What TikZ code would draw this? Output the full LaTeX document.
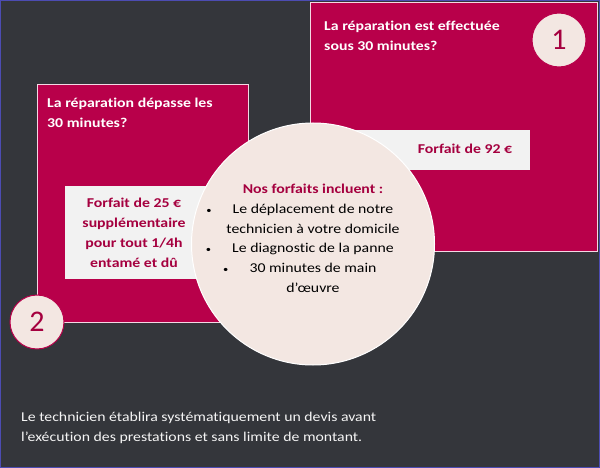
\documentclass[tikz,border=0pt]{standalone}
\usepackage{fontspec}
\setmainfont{Carlito}[Ligatures=NoCommon]
\usetikzlibrary{shapes.geometric}
\definecolor{bg}{HTML}{34363B}
\definecolor{crim}{HTML}{B8004A}
\definecolor{crtx}{HTML}{A5003F}
\definecolor{pale}{HTML}{F2F2F2}
\definecolor{cream}{HTML}{F3E7E2}
\newcommand{\bul}[1]{\makebox[0pt][r]{{\fontsize{9}{9}\selectfont •}\hspace{#1}}}
\begin{document}
\begin{tikzpicture}[x=1pt,y=-1pt,
  redbox/.style={fill=crim,draw=white!85!crim,line width=1pt},
  wide/.style={xscale=1.17,transform shape},
  qtext/.style={wide,text=white,font=\bfseries\fontsize{13.5}{20}\selectfont,align=left,anchor=north west,inner sep=0},
  numc/.style={circle,fill=cream,draw=crim,line width=1pt,minimum size=54pt,inner sep=0,text=crtx,font=\fontsize{30}{30}\selectfont},
  body/.style={wide,font=\fontsize{13.5}{19.7}\selectfont,align=center,inner sep=0}]
\fill[bg] (0,0) rectangle (600,468);
\draw[line width=1pt,draw=gray!60!blue] (0.5,0.5) rectangle (599.5,467.5);
\draw[redbox] (310,3) rectangle (597,251);
\draw[redbox] (37,85) rectangle (248,322);
\node[qtext] (q1) at (324,21) {La réparation est effectuée\\sous 30 minutes?};
\node[qtext] (q2) at (47,98) {La réparation dépasse les\\30 minutes?};
\node[numc] (n1) at (559,40) {1};
\node[numc] (n2) at (37,322) {2};
\fill[pale] (356,130) rectangle (530,170);
\node[wide,text=crtx,font=\bfseries\fontsize{13.5}{14}\selectfont] (f92) at (465,149) {Forfait de 92 €};
\fill[pale] (65,186) rectangle (210,279);
\node[body,text=crtx,font=\bfseries\fontsize{13.5}{20}\selectfont] (f25) at (134,233) {Forfait de 25 €\\supplémentaire\\pour tout 1/4h\\entamé et dû};
\node[ellipse,draw=white,line width=1pt,fill=cream,minimum width=243pt,minimum height=242pt,inner sep=0] (el) at (313,244) {};
\node[body,anchor=north] (inc) at (313,184) {\textcolor{crtx}{\bfseries Nos forfaits incluent :}\\
\bul{18pt}Le déplacement de notre\\technicien à votre domicile\\
\bul{18pt}Le diagnostic de la panne\\\bul{18pt}30 minutes de main\\d’œuvre};
\node[wide,font=\fontsize{13.5}{20}\selectfont,text=white!92!gray,align=left,anchor=north west,inner sep=0] (foot) at (21,412) {Le technicien établira systématiquement un devis avant\\l'exécution des prestations et sans limite de montant.};
\end{tikzpicture}
\end{document}
